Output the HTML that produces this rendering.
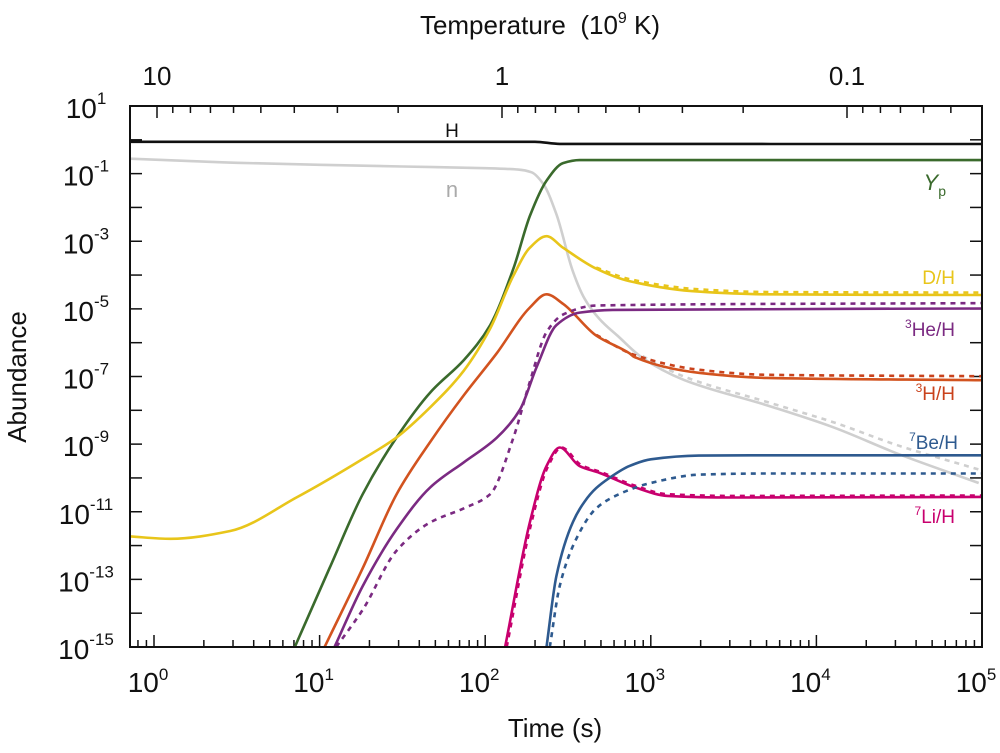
<!DOCTYPE html>
<html><head><meta charset="utf-8"><style>
body{margin:0;background:#fff;width:1000px;height:748px;overflow:hidden}
svg{font-family:"Liberation Sans",sans-serif}
</style></head><body>
<svg id="c" width="1000" height="748"></svg>
<script>
const xTicks=[0,1,2,3,4,5];
const yTicks=[1,-1,-3,-5,-7,-9,-11,-13,-15];
const tempTicks=[{t:"10",v:1},{t:"1",v:0},{t:"0.1",v:-1}];
const H_solid=[[-0.15,-0.06],[2.3,-0.06],[2.45,-0.12],[5,-0.125]];
const n_solid=[[-0.15,-0.56],[0.5,-0.68],[1,-0.74],[1.5,-0.79],[2,-0.84],[2.2,-0.88],[2.28,-0.96],[2.35,-1.3],[2.43,-2.2],[2.53,-3.9],[2.6,-4.7],[2.69,-5.3],[2.8,-5.8],[2.95,-6.45],[3.2,-7.1],[3.7,-7.85],[4.1,-8.5],[4.5,-9.3],[4.98,-10.15]];
const n_dash=[[2.95,-6.4],[3.2,-7.0],[3.7,-7.75],[4.1,-8.35],[4.5,-9.05],[4.98,-9.75]];
const Yp_solid=[[0.85,-15],[1.06,-12.67],[1.26,-10.48],[1.465,-8.8],[1.67,-7.46],[1.87,-6.52],[2.03,-5.48],[2.17,-3.81],[2.27,-2.25],[2.37,-1.21],[2.47,-0.69],[2.57,-0.6],[5,-0.6]];
const D_solid=[[-0.15,-11.73],[0.1,-11.8],[0.46,-11.57],[0.86,-10.58],[1.26,-9.44],[1.465,-8.8],[1.67,-7.9],[1.87,-6.83],[2.03,-5.58],[2.17,-4.02],[2.27,-3.19],[2.37,-2.85],[2.47,-3.19],[2.67,-3.81],[2.87,-4.18],[3.29,-4.49],[3.7,-4.57],[5,-4.59]];
const D_dash=[[2.67,-3.78],[2.87,-4.12],[3.29,-4.42],[3.7,-4.5],[5,-4.52]];
const T_solid=[[1.03,-15],[1.26,-12.67],[1.465,-10.48],[1.67,-8.92],[1.87,-7.56],[2.07,-6.31],[2.27,-4.96],[2.37,-4.57],[2.47,-4.85],[2.67,-5.79],[2.87,-6.31],[2.9,-6.42],[3.29,-6.89],[3.7,-7.04],[5,-7.11]];
const T_dash=[[2.67,-5.77],[2.9,-6.36],[3.29,-6.8],[3.7,-6.95],[5,-6.99]];
const He_solid=[[1.09,-15],[1.26,-13.2],[1.465,-11.52],[1.67,-10.27],[1.87,-9.54],[2.07,-8.81],[2.21,-7.98],[2.31,-6.73],[2.43,-5.48],[2.57,-5.11],[2.77,-5.03],[5,-4.99]];
const He_dash=[[1.1,-15],[1.26,-13.9],[1.465,-12.15],[1.67,-11.31],[1.87,-10.9],[2.03,-10.48],[2.17,-8.81],[2.27,-7.15],[2.37,-5.69],[2.47,-5.17],[2.67,-4.9],[5,-4.83]];
const Li_solid=[[2.12,-15],[2.27,-11.31],[2.37,-9.65],[2.45,-9.1],[2.57,-9.65],[2.69,-9.85],[2.9,-10.27],[3.1,-10.53],[3.5,-10.58],[5,-10.56]];
const Li_dash=[[2.13,-15],[2.28,-11.3],[2.38,-9.65],[2.46,-9.1],[2.58,-9.62],[2.7,-9.83],[2.9,-10.22],[3.1,-10.48],[3.5,-10.53],[5,-10.52]];
const Be_solid=[[2.37,-15],[2.43,-12.9],[2.53,-11.3],[2.6,-10.7],[2.67,-10.3],[2.75,-10.0],[2.87,-9.65],[3.0,-9.45],[3.29,-9.34],[3.6,-9.33],[5,-9.33]];
const Be_dash=[[2.39,-15],[2.45,-13.2],[2.55,-11.8],[2.67,-10.9],[2.8,-10.5],[3.0,-10.15],[3.3,-9.9],[3.7,-9.87],[5,-9.87]];

const L=130,R=982,T=106,B=647,X0=154,DX=165.6;
const xs=v=>X0+v*DX;
const ys=v=>T+(1-v)*(B-T)/16;
const tx=lt=>502-lt*345;
const svg=document.getElementById('c');
const NS='http://www.w3.org/2000/svg';
function el(tag,attrs,parent){const e=document.createElementNS(NS,tag);for(const k in attrs)e.setAttribute(k,attrs[k]);(parent||svg).appendChild(e);return e;}
function txt(x,y,s,size,fill,anchor,name){const e=el('text',{x:x,y:y,'font-size':size,fill:fill||'#111','text-anchor':anchor||'middle'});e.innerHTML=s;


return e;}
const clip=el('clipPath',{id:'pc'});el('rect',{x:L,y:T,width:R-L,height:B-T},clip);
for(let d=-1;d<=5;d++){for(let m=1;m<10;m++){const v=d+Math.log10(m);if(xs(v)<L||xs(v)>R+1)continue;const len=m==1?12:7;
const t=el('line',{x1:xs(v),x2:xs(v),y1:B,y2:B-len,stroke:'#111','stroke-width':1.5});

}}
xTicks.forEach(v=>{txt(xs(v)-6,692,'10<tspan font-size="17" dy="-12">'+v+'</tspan>',28,'#111','middle','x-tick-label');});
for(let d=-15;d<=1;d++){const y=ys(d);
const a=el('line',{x1:L,x2:L+12,y1:y,y2:y,stroke:'#111','stroke-width':1.5});


const b=el('line',{x1:R,x2:R-12,y1:y,y2:y,stroke:'#111','stroke-width':1.5});

}
yTicks.forEach(v=>{txt(86,ys(v)+12,'10<tspan font-size="17" dy="-14">'+v+'</tspan>',28,'#111','middle','y-tick-label');});
for(let d=-2;d<=1;d++){for(let m=1;m<10;m++){const v=d+Math.log10(m);const x=tx(v);if(x<L||x>R)continue;const len=m==1?12:7;
const t=el('line',{x1:x,x2:x,y1:T,y2:T+len,stroke:'#111','stroke-width':1.5});

}}
tempTicks.forEach(o=>{txt(tx(o.v),85,o.t,26,'#111','middle','temperature-tick-label');});
txt(540,34,'Temperature&#160;&#160;(10<tspan font-size="16" dy="-11">9</tspan><tspan dy="11"> K)</tspan>',26,'#111','middle','top-axis-title');
txt(555,737,'Time (s)',26,'#111','middle','x-axis-title');
const yt=txt(26,377,'Abundance',26,'#111','middle','y-axis-title');yt.setAttribute('transform','rotate(-90 26 377)');
// monotone cubic (Fritsch-Carlson) path
function smooth(p){const n=p.length;const dx=[],s=[];for(let i=0;i<n-1;i++){dx[i]=p[i+1][0]-p[i][0];s[i]=(p[i+1][1]-p[i][1])/dx[i];}
const m=[];m[0]=s[0];m[n-1]=s[n-2];for(let i=1;i<n-1;i++){if(s[i-1]*s[i]<=0)m[i]=0;else{const w1=2*dx[i]+dx[i-1],w2=dx[i]+2*dx[i-1];m[i]=(w1+w2)/(w1/s[i-1]+w2/s[i]);}}
let d='M'+p[0][0].toFixed(1)+','+p[0][1].toFixed(1);
for(let i=0;i<n-1;i++){const h=dx[i]/3;d+='C'+(p[i][0]+h).toFixed(1)+','+(p[i][1]+m[i]*h).toFixed(1)+' '+(p[i+1][0]-h).toFixed(1)+','+(p[i+1][1]-m[i+1]*h).toFixed(1)+' '+p[i+1][0].toFixed(1)+','+p[i+1][1].toFixed(1);}
return d;}
function line(data,color,dash,name,w){const pts=data.map(d=>[xs(d[0]),ys(d[1])]);
const e=el('path',{d:smooth(pts),fill:'none',stroke:color,'stroke-width':w||2.6,'stroke-dasharray':dash?'5,5':'none','clip-path':'url(#pc)','stroke-linejoin':'round'});

}
line(n_dash,'#cfcfcf',true,'n-dashed');
line(n_solid,'#cfcfcf',false,'n-line');
line(H_solid,'#111',false,'h-line');
line(Yp_solid,'#3a6a2c',false,'yp-line');
line(D_dash,'#e8c51a',true,'dh-dashed');
line(D_solid,'#e8c51a',false,'dh-line');
line(T_dash,'#c9421c',true,'3h-dashed');
line(T_solid,'#d2531f',false,'3h-line');
line(He_dash,'#7b2a82',true,'3he-dashed');
line(He_solid,'#7b2a82',false,'3he-line');
line(Li_dash,'#c8006e',true,'7li-dashed');
line(Li_solid,'#c8006e',false,'7li-line');
line(Be_dash,'#2e5a8f',true,'7be-dashed');
line(Be_solid,'#2e5a8f',false,'7be-line');
const box=el('rect',{x:L,y:T,width:R-L,height:B-T,fill:'none',stroke:'#111','stroke-width':2});


txt(452,137,'H',19,'#111','middle','h-label');
txt(452,197,'n',22,'#aaa','middle','n-label');
txt(946,190,'<tspan font-style="italic">Y</tspan><tspan font-size="14" dy="6">p</tspan>',22,'#3a6a2c','end','yp-label');
txt(955,284,'D/H',19,'#e8c51a','end','dh-label');
txt(955,336,'<tspan font-size="12" dy="-8">3</tspan><tspan dy="8">He/H</tspan>',19,'#7b2a82','end','3he-label');
txt(955,400,'<tspan font-size="12" dy="-8">3</tspan><tspan dy="8">H/H</tspan>',19,'#c9421c','end','3h-label');
txt(958,449,'<tspan font-size="12" dy="-8">7</tspan><tspan dy="8">Be/H</tspan>',19,'#2e5a8f','end','7be-label');
txt(955,523,'<tspan font-size="12" dy="-8">7</tspan><tspan dy="8">Li/H</tspan>',19,'#c8006e','end','7li-label');
</script>
</body></html>
